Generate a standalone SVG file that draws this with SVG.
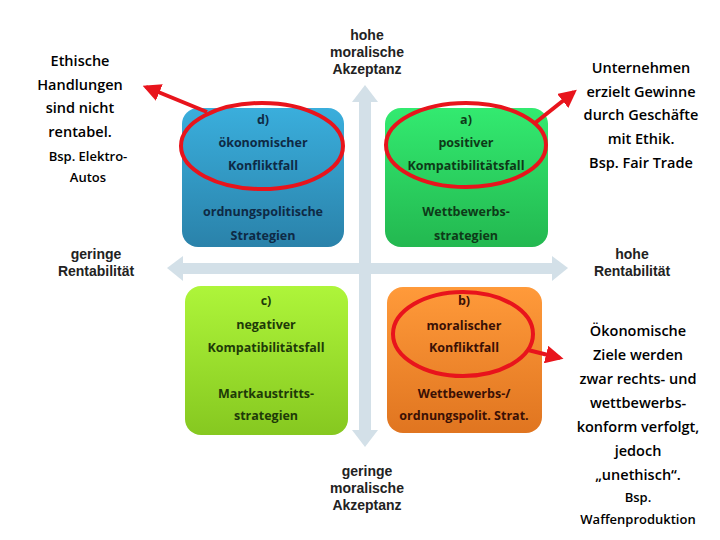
<svg xmlns="http://www.w3.org/2000/svg" width="720" height="540" viewBox="0 0 720 540">
<defs>
<linearGradient id="gd" x1="0" y1="0" x2="0" y2="1"><stop offset="0" stop-color="#3aaedc"/><stop offset="1" stop-color="#2a82aa"/></linearGradient>
<linearGradient id="ga" x1="0" y1="0" x2="0" y2="1"><stop offset="0" stop-color="#33ea70"/><stop offset="1" stop-color="#23b850"/></linearGradient>
<linearGradient id="gc" x1="0" y1="0" x2="0" y2="1"><stop offset="0" stop-color="#aef53a"/><stop offset="1" stop-color="#86c820"/></linearGradient>
<linearGradient id="gb" x1="0" y1="0" x2="0" y2="1"><stop offset="0" stop-color="#ff9a3a"/><stop offset="1" stop-color="#e07520"/></linearGradient>
<marker id="rh" viewBox="0 0 10 10" refX="8" refY="5" markerWidth="4.5" markerHeight="4.5" orient="auto"><path d="M0,0 L10,5 L0,10 z" fill="#e8141c"/></marker>
<style>
.bt{font-family:"Open Sans","Liberation Sans",sans-serif;font-size:12.5px;font-weight:bold;text-anchor:middle}
.ax{font-family:"Liberation Sans",Arial,sans-serif;font-size:14px;font-weight:bold;text-anchor:middle;fill:#222}
.sd{font-family:"Open Sans","Liberation Sans",sans-serif;font-size:14.5px;font-weight:600;text-anchor:middle;fill:#000}
.sm{font-family:"Open Sans","Liberation Sans",sans-serif;font-size:13px;font-weight:600;text-anchor:middle;fill:#000}
.el{fill:none;stroke:#e8141c;stroke-width:4}
</style>
</defs>
<rect width="720" height="540" fill="#fff"/>
<g id="axes" fill="#d3e0e8">
<rect x="359" y="100" width="12" height="335"/>
<polygon points="352,102 365,85 378,102"/>
<polygon points="352,430 365,447 378,430"/>
<rect x="180" y="263" width="375" height="11"/>
<polygon points="183,256 167,268 183,281"/>
<polygon points="552,256 568,268 552,281"/>
</g>
<g id="d"><rect x="182" y="108" width="162" height="139" rx="16" fill="url(#gd)"/>
<text class="bt" fill="#0e2a45"><tspan x="263" y="124">d)</tspan><tspan x="263" y="147">ökonomischer</tspan><tspan x="263" y="170">Konfliktfall</tspan><tspan x="263" y="216">ordnungspolitische</tspan><tspan x="263" y="240">Strategien</tspan></text></g>
<g id="a"><rect x="385" y="108" width="163" height="139" rx="16" fill="url(#ga)"/>
<text class="bt" fill="#0e3a18"><tspan x="466" y="124">a)</tspan><tspan x="466" y="147">positiver</tspan><tspan x="466" y="170">Kompatibilitätsfall</tspan><tspan x="466" y="216">Wettbewerbs-</tspan><tspan x="466" y="240">strategien</tspan></text></g>
<g id="c"><rect x="185" y="286" width="163" height="149" rx="16" fill="url(#gc)"/>
<text class="bt" fill="#1e3a08"><tspan x="266" y="305">c)</tspan><tspan x="266" y="329">negativer</tspan><tspan x="266" y="352">Kompatibilitätsfall</tspan><tspan x="266" y="398">Martkaustritts-</tspan><tspan x="266" y="420">strategien</tspan></text></g>
<g id="b"><rect x="387" y="287" width="155" height="146" rx="16" fill="url(#gb)"/>
<text class="bt" fill="#3a1005"><tspan x="464" y="305">b)</tspan><tspan x="464" y="330">moralischer</tspan><tspan x="464" y="352">Konfliktfall</tspan><tspan x="464" y="398">Wettbewerbs-/</tspan><tspan x="464" y="420">ordnungspolit. Strat.</tspan></text></g>
<g id="labels">
<text class="ax"><tspan x="367" y="40">hohe</tspan><tspan x="367" y="57">moralische</tspan><tspan x="367" y="74">Akzeptanz</tspan></text>
<text class="ax"><tspan x="367" y="476">geringe</tspan><tspan x="367" y="493">moralische</tspan><tspan x="367" y="510">Akzeptanz</tspan></text>
<text class="ax"><tspan x="96" y="259">geringe</tspan><tspan x="96" y="276">Rentabilität</tspan></text>
<text class="ax"><tspan x="632" y="259">hohe</tspan><tspan x="632" y="276">Rentabilität</tspan></text>
</g>
<g id="notes">
<text class="sd"><tspan x="80" y="66">Ethische</tspan><tspan x="80" y="90">Handlungen</tspan><tspan x="80" y="113">sind nicht</tspan><tspan x="80" y="137">rentabel.</tspan></text>
<text class="sm"><tspan x="88" y="161">Bsp. Elektro-</tspan><tspan x="88" y="182">Autos</tspan></text>
<text class="sd"><tspan x="641" y="73">Unternehmen</tspan><tspan x="641" y="97">erzielt Gewinne</tspan><tspan x="641" y="120">durch Geschäfte</tspan><tspan x="641" y="144">mit Ethik.</tspan><tspan x="641" y="168">Bsp. Fair Trade</tspan></text>
<text class="sd"><tspan x="638" y="336">Ökonomische</tspan><tspan x="638" y="360">Ziele werden</tspan><tspan x="638" y="384">zwar rechts- und</tspan><tspan x="638" y="408">wettbewerbs-</tspan><tspan x="638" y="432">konform verfolgt,</tspan><tspan x="638" y="456">jedoch</tspan><tspan x="638" y="480">„unethisch“.</tspan></text>
<text class="sm"><tspan x="638" y="502">Bsp.</tspan><tspan x="638" y="524">Waffenproduktion</tspan></text>
</g>
<g id="connectors">
<ellipse class="el" cx="262" cy="146" rx="81" ry="43"/>
<ellipse class="el" cx="466" cy="145" rx="80" ry="42"/>
<ellipse class="el" cx="463" cy="334" rx="70" ry="42"/>
<line x1="207" y1="112" x2="146" y2="87" stroke="#e8141c" stroke-width="4" marker-end="url(#rh)"/>
<line x1="535" y1="123" x2="574" y2="92" stroke="#e8141c" stroke-width="4" marker-end="url(#rh)"/>
<line x1="528" y1="350" x2="560" y2="358" stroke="#e8141c" stroke-width="4" marker-end="url(#rh)"/>
</g>
</svg>
